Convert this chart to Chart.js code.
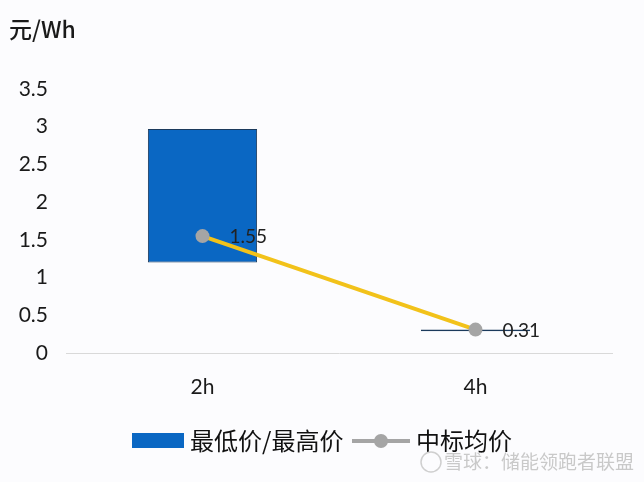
<!DOCTYPE html>
<html>
<head>
<meta charset="utf-8">
<script src="https://cdn.jsdelivr.net/npm/chart.js@4"></script>
<style>
  html, body { margin: 0; padding: 0; background: #fcfcfe; }
  #wrap { width: 644px; height: 482px; position: relative; }
</style>
</head>
<body>
<div id="wrap"><canvas id="c" width="644" height="482"></canvas></div>
<script>
const categories = ['2h', '4h'];
const lowPrices = [1.2, 0.29];
const highPrices = [2.97, 0.31];
const avgPrices = [1.55, 0.31];
const seriesNames = ['最低价/最高价', '中标均价'];
const yUnit = '元/Wh';
const watermark = '雪球：储能领跑者联盟';

const LATIN = 'Lato, "Noto Sans CJK SC", sans-serif';
const CJK = '"Noto Sans CJK SC", Lato, sans-serif';
const barColor = '#0A67C3';
const barEdge = '#1B3A5C';
const lineColor = '#F2C21A';
const pointColor = '#A5A5A5';

const extras = {
  id: 'extras',
  afterDraw(chart) {
    const ctx = chart.ctx;
    ctx.save();
    // unit label
    ctx.fillStyle = '#1a1a1a';
    ctx.font = '500 23px ' + CJK;
    ctx.textAlign = 'left';
    ctx.textBaseline = 'middle';
    ctx.fillText(yUnit, 9, 29);

    // data labels for line
    const meta = chart.getDatasetMeta(1);
    ctx.font = '19px ' + LATIN;
    ctx.fillStyle = '#222';
    meta.data.forEach((pt, i) => {
      ctx.fillText(avgPrices[i].toFixed(2), pt.x + 27, pt.y + 1);
    });

    // legend
    const ly = 441;
    ctx.fillStyle = barColor;
    ctx.fillRect(132, 433, 52, 15);
    ctx.fillStyle = '#111';
    ctx.font = '24px ' + CJK;
    ctx.fillText(seriesNames[0], 190, ly);
    ctx.strokeStyle = pointColor;
    ctx.lineWidth = 4;
    ctx.beginPath();
    ctx.moveTo(352, ly);
    ctx.lineTo(410, ly);
    ctx.stroke();
    ctx.fillStyle = pointColor;
    ctx.beginPath();
    ctx.arc(381, ly, 7, 0, Math.PI * 2);
    ctx.fill();
    ctx.fillStyle = '#111';
    ctx.fillText(seriesNames[1], 416, ly);

    // watermark
    ctx.strokeStyle = '#cfcfcf';
    ctx.lineWidth = 1.5;
    ctx.beginPath();
    ctx.arc(431, 462, 10, 0, Math.PI * 2);
    ctx.stroke();
    ctx.fillStyle = '#c9c9c9';
    ctx.font = '19px ' + CJK;
    ctx.fillText(watermark, 444, 462);
    ctx.restore();
  }
};

new Chart(document.getElementById('c'), {
  data: {
    labels: categories,
    datasets: [
      {
        type: 'bar',
        label: seriesNames[0],
        data: categories.map((c, i) => [lowPrices[i], highPrices[i]]),
        backgroundColor: (ctx) => {
          const i = ctx.dataIndex;
          return (highPrices[i] - lowPrices[i]) < 0.05 ? barEdge : barColor;
        },
        borderColor: barEdge,
        borderWidth: 1,
        borderSkipped: false,
        barPercentage: 0.4,
        categoryPercentage: 1,
        order: 1
      },
      {
        type: 'line',
        label: seriesNames[1],
        data: avgPrices,
        borderColor: pointColor,
        segment: { borderColor: lineColor },
        borderWidth: 4,
        pointRadius: 7,
        pointHoverRadius: 7,
        pointBackgroundColor: pointColor,
        pointBorderColor: pointColor,
        pointBorderWidth: 0,
        tension: 0,
        order: 0
      }
    ]
  },
  options: {
    responsive: false,
    animation: false,
    devicePixelRatio: 1,
    layout: { padding: { top: 89, right: 32, left: 0, bottom: 0 } },
    plugins: {
      legend: { display: false },
      tooltip: { enabled: false }
    },
    scales: {
      x: {
        grid: { display: false, drawTicks: false },
        border: { display: true, color: '#d9d9d9', width: 1 },
        ticks: { color: '#1a1a1a', font: { size: 21, family: LATIN }, padding: 22 },
        afterFit(s) { s.height = 129; }
      },
      y: {
        min: 0,
        max: 3.5,
        grid: { display: false, drawTicks: false },
        border: { display: false },
        ticks: {
          stepSize: 0.5,
          color: '#1a1a1a',
          font: { size: 21, family: LATIN },
          padding: 18,
          callback: (v) => String(Number(v))
        },
        afterFit(s) { s.width = 66; }
      }
    }
  },
  plugins: [extras]
});
</script>
</body>
</html>
